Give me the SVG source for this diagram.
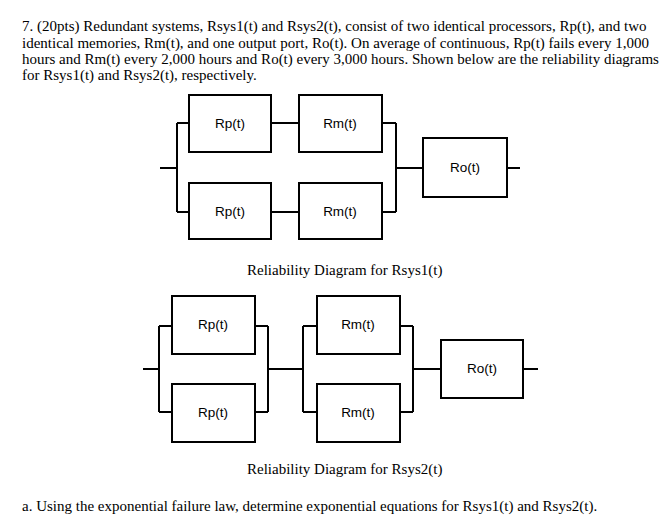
<svg xmlns="http://www.w3.org/2000/svg" width="664" height="526" viewBox="0 0 664 526">
<style>
.t{font-family:"Liberation Serif",serif;font-size:15px;fill:#000}
.l{font-family:"Liberation Sans",Arial,sans-serif;font-size:13.5px;fill:#000;text-anchor:middle}
.b{fill:#fff;stroke:#000;stroke-width:2}
.c{fill:none;stroke:#000;stroke-width:2}
</style>
<rect width="664" height="526" fill="#fff"/>
<text class="t" x="22" y="31">7. (20pts) Redundant systems, Rsys1(t) and Rsys2(t), consist of two identical processors, Rp(t), and two</text>
<text class="t" x="22" y="48">identical memories, Rm(t), and one output port, Ro(t). On average of continuous, Rp(t) fails every 1,000</text>
<text class="t" x="22" y="64">hours and Rm(t) every 2,000 hours and Ro(t) every 3,000 hours. Shown below are the reliability diagrams</text>
<text class="t" x="22" y="80">for Rsys1(t) and Rsys2(t), respectively.</text>
<g id="connectors">
<path class="c" d="M160 168H177M177 123V212M177 123H189M177 212H189M271 123H299M271 212H299M382 123H396M382 212H396M396 123V212M396 168H423M507 168H520"/>
<path class="c" d="M143 369H159M159 326V412M159 326H172M159 412H172M255 326H268M255 412H268M268 326V412M268 369H303M303 326V412M303 326H317M303 412H317M400 326H413M400 412H413M413 326V412M413 369H441M523 369H538"/>
</g>
<g id="n1"><rect class="b" x="189" y="95" width="82" height="57"/><text class="l" x="230" y="128">Rp(t)</text></g>
<g id="n2"><rect class="b" x="299" y="95" width="83" height="57"/><text class="l" x="340" y="128">Rm(t)</text></g>
<g id="n3"><rect class="b" x="189" y="183" width="82" height="56"/><text class="l" x="230" y="216">Rp(t)</text></g>
<g id="n4"><rect class="b" x="299" y="183" width="83" height="56"/><text class="l" x="340" y="216">Rm(t)</text></g>
<g id="n5"><rect class="b" x="423" y="138" width="84" height="59"/><text class="l" x="465" y="172">Ro(t)</text></g>
<text class="t" x="247" y="275">Reliability Diagram for Rsys1(t)</text>
<g id="m1"><rect class="b" x="172" y="296" width="83" height="58"/><text class="l" x="213" y="329">Rp(t)</text></g>
<g id="m2"><rect class="b" x="172" y="384" width="83" height="58"/><text class="l" x="213" y="417">Rp(t)</text></g>
<g id="m3"><rect class="b" x="317" y="296" width="83" height="58"/><text class="l" x="358" y="329">Rm(t)</text></g>
<g id="m4"><rect class="b" x="317" y="384" width="83" height="58"/><text class="l" x="358" y="417">Rm(t)</text></g>
<g id="m5"><rect class="b" x="441" y="340" width="82" height="58"/><text class="l" x="482" y="373">Ro(t)</text></g>
<text class="t" x="247" y="474">Reliability Diagram for Rsys2(t)</text>
<text class="t" x="22" y="511">a. Using the exponential failure law, determine exponential equations for Rsys1(t) and Rsys2(t).</text>
</svg>
